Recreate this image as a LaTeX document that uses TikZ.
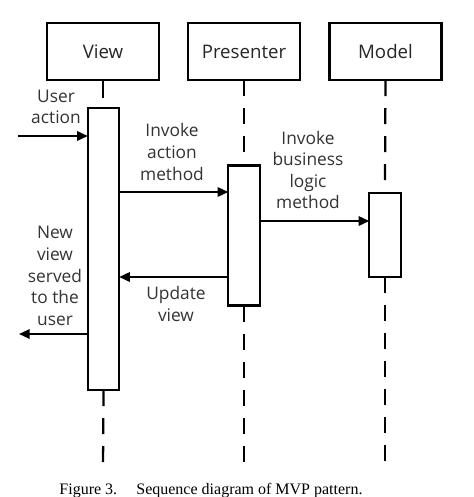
\documentclass[tikz,border=0pt]{standalone}
\usepackage{fontspec}
\setmainfont{Liberation Serif}
\newfontfamily\labfont{Open Sans}
\usetikzlibrary{arrows.meta}
\begin{document}
\begin{tikzpicture}[x=0.75pt,y=-0.75pt,
  every node/.style={inner sep=0pt,outer sep=0pt},
  header/.style={draw,line width=1.8pt,fill=white,minimum width=84pt,minimum height=43pt,font=\labfont\fontsize{14}{16}\selectfont,text=black!85},
  act/.style={draw,line width=1.6pt,fill=white},
  life/.style={line width=1.7pt,dash pattern=on 12pt off 9pt},
  msg/.style={line width=1.6pt,-{Triangle[length=8pt,width=7pt]}},
  lab/.style={align=center,font=\labfont\fontsize{13}{16.2}\selectfont,text=black!80}]
\useasboundingbox (0,0) rectangle (474,497);
% headers
\node[header] (hv) at (103,51.5) {View};
\node[header] (hp) at (244,51.5) {Presenter};
\node[header] (hm) at (385.5,51.5) {Model};
% activations
\node[act,minimum width=23.5pt,minimum height=211.5pt] (av) at (103.5,249) {};
\node[act,minimum width=23.5pt,minimum height=105pt] (ap) at (244,235.5) {};
\node[act,minimum width=23.5pt,minimum height=63pt] (am) at (385,235) {};
% lifelines
\coordinate (v1) at (103,98);
\coordinate (v2) at (103,470);
\coordinate (p1) at (244,157);
\coordinate (p2) at (244,470);
\coordinate (m1) at (385,186);
\coordinate (m2) at (385,470);
\draw[line width=1.7pt] (hv.south) -- (v1);
\draw[life] (av.south) -- (v2);
\draw[life] (hp.south) -- (p1);
\draw[life] (ap.south) -- (p2);
\draw[life] (hm.south) -- (m1);
\draw[life] (am.south) -- (m2);
% messages
\coordinate (ua) at (18,136);
\coordinate (nv) at (19,334);
\draw[msg] (ua) -- (ua -| av.west);
\draw[msg] (av.east |- 0,192) -- (ap.west |- 0,192);
\draw[msg] (ap.east |- 0,221) -- (am.west |- 0,221);
\draw[msg] (ap.west |- 0,277) -- (av.east |- 0,277);
\draw[msg] (av.west |- nv) -- (nv);
% labels
\node[lab] (l1) at (56,107) {User\\action};
\node[lab] (l2) at (172,152) {Invoke\\action\\method};
\node[lab] (l3) at (308,170) {Invoke\\business\\logic\\method};
\node[lab] (l4) at (176,304) {Update\\view};
\node[lab] (l5) at (55,276) {New\\view\\served\\to the\\user};
\node[font=\fontsize{12}{14}\selectfont] (cap) at (211,491) {Figure 3.\hspace{1.2em}Sequence diagram of MVP pattern.};
\end{tikzpicture}
\end{document}
